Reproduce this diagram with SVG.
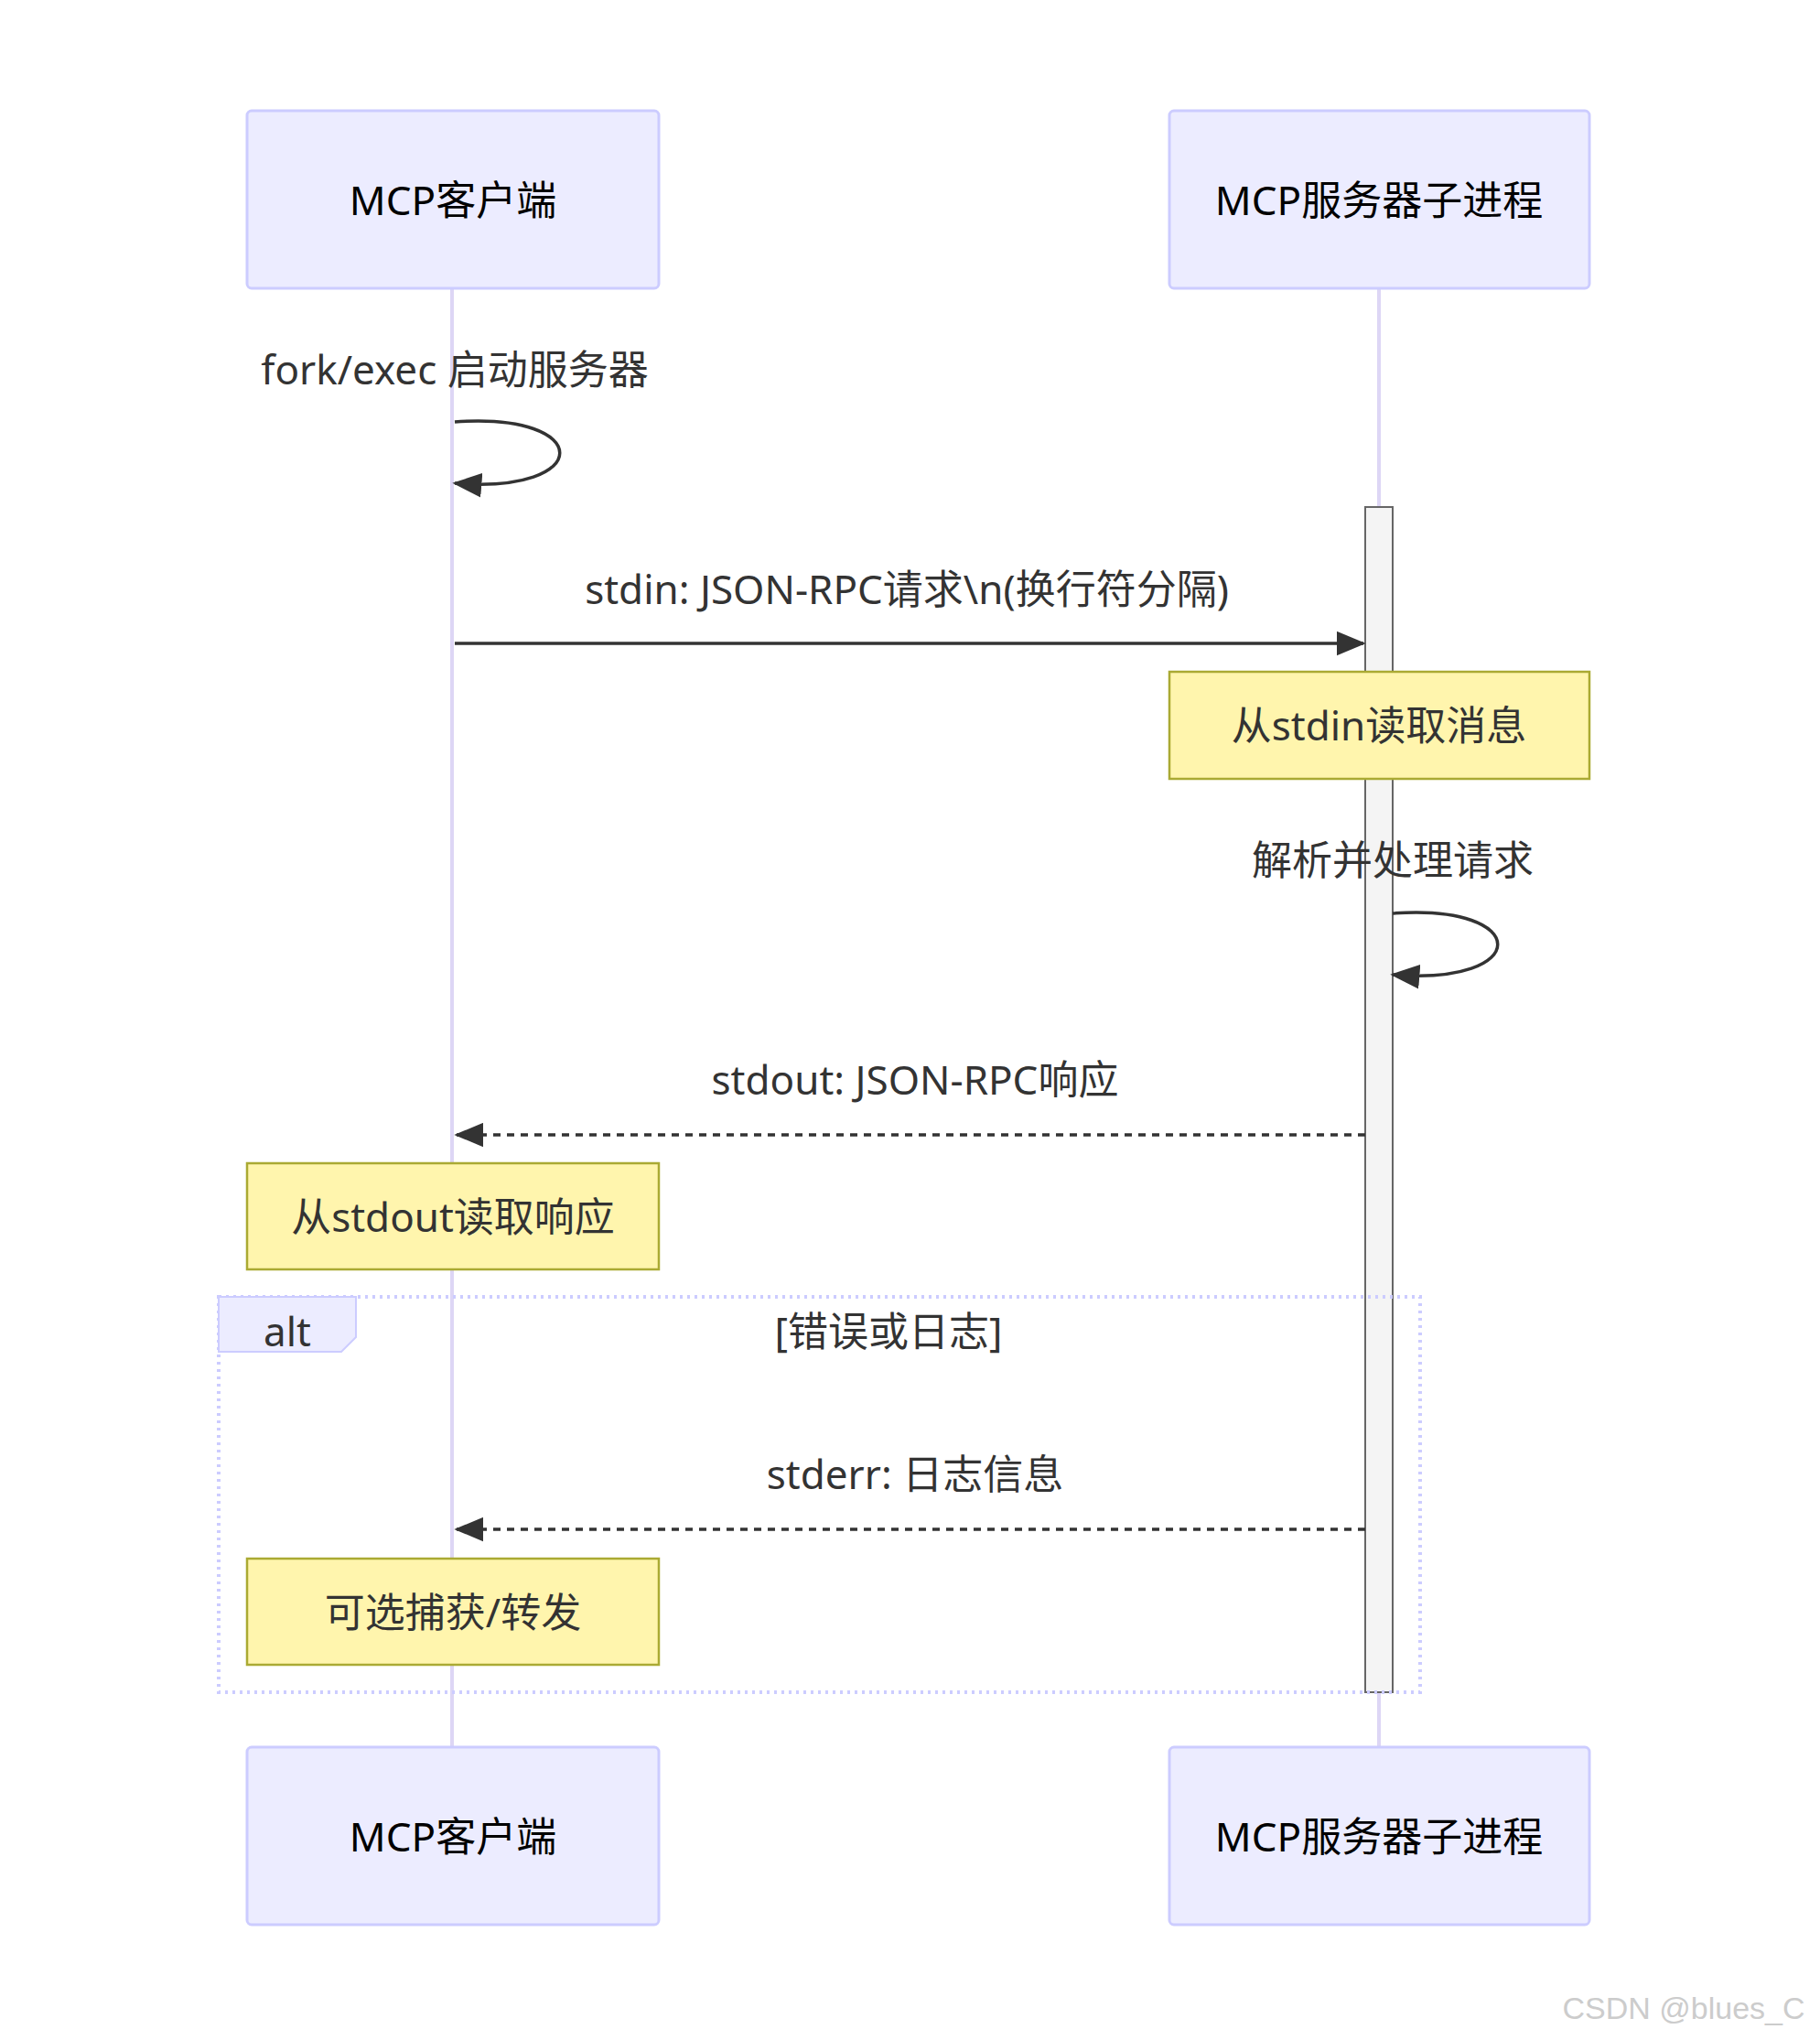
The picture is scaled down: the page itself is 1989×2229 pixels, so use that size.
<svg xmlns="http://www.w3.org/2000/svg" width="1989" height="2229" viewBox="0 0 1989 2229">
<defs>
<style>
text{font-family:"Noto Sans","Noto Sans CJK SC",sans-serif;font-size:44px;fill:#333;text-anchor:middle;dominant-baseline:central}
.actor{fill:#ECECFF;stroke:#CCCCFF;stroke-width:3}
.actor+text{fill:#000}
.note{fill:#FFF5AD;stroke:#AAAA33;stroke-width:2.5}
.life{stroke:#DDD6F5;stroke-width:4}
.msg{stroke:#333;stroke-width:3.5;fill:none}
.dash{stroke-dasharray:8,7}
</style>
<marker id="ah" viewBox="0 0 12 10" refX="11" refY="5" markerWidth="12" markerHeight="10" markerUnits="userSpaceOnUse" orient="auto">
<path d="M0,0 L12,5 L0,10 z" fill="#333"/>
</marker>
<marker id="ahb" viewBox="0 0 12 10" refX="11" refY="5" markerWidth="32" markerHeight="27" markerUnits="userSpaceOnUse" orient="auto">
<path d="M0,0 L12,5 L0,10 z" fill="#333"/>
</marker>
</defs>
<rect width="1989" height="2229" fill="#fff"/>
<g id="lifelines">
<line class="life" x1="494" y1="315" x2="494" y2="1909"/>
<line class="life" x1="1507" y1="315" x2="1507" y2="1909"/>
</g>
<g id="activation"><rect x="1492" y="554" width="30" height="1295" fill="#F4F4F4" stroke="#666" stroke-width="2"/></g>
<g id="alt">
<rect x="239" y="1417" width="1313" height="432" fill="none" stroke="#CCCCFF" stroke-width="4" stroke-dasharray="3,5"/>
<path d="M239,1417 H389 V1461 L373,1477 H239 Z" fill="#ECECFF" stroke="#CCCCFF" stroke-width="2"/>
<text x="314" y="1454">alt</text>
<text x="971" y="1454">[错误或日志]</text>
</g>
<g id="actor-client-top"><rect class="actor" x="270" y="121" width="450" height="194" rx="5"/><text x="495" y="218">MCP客户端</text></g>
<g id="actor-server-top"><rect class="actor" x="1278" y="121" width="459" height="194" rx="5"/><text x="1507" y="218">MCP服务器子进程</text></g>
<g id="actor-client-bottom"><rect class="actor" x="270" y="1909" width="450" height="194" rx="5"/><text x="495" y="2006">MCP客户端</text></g>
<g id="actor-server-bottom"><rect class="actor" x="1278" y="1909" width="459" height="194" rx="5"/><text x="1507" y="2006">MCP服务器子进程</text></g>
<g id="note1"><rect class="note" x="1278" y="734" width="459" height="117"/><text x="1507" y="792">从stdin读取消息</text></g>
<g id="note2"><rect class="note" x="270" y="1271" width="450" height="116"/><text x="495" y="1329">从stdout读取响应</text></g>
<g id="note3"><rect class="note" x="270" y="1703" width="450" height="116"/><text x="495" y="1761">可选捕获/转发</text></g>
<g id="connectors">
<text x="497" y="403">fork/exec 启动服务器</text>
<path class="msg" d="M497,461 C650,450 650,540 497,528" marker-end="url(#ahb)"/>
<text x="991" y="643">stdin: JSON-RPC请求\n(换行符分隔)</text>
<line class="msg" x1="497" y1="703" x2="1490" y2="703" marker-end="url(#ahb)"/>
<text x="1522" y="939">解析并处理请求</text>
<path class="msg" d="M1522,998 C1675,987 1675,1077 1522,1065" marker-end="url(#ahb)"/>
<text x="1000" y="1179">stdout: JSON-RPC响应</text>
<line class="msg dash" x1="1492" y1="1240" x2="499" y2="1240" marker-end="url(#ahb)"/>
<text x="1000" y="1610">stderr: 日志信息</text>
<line class="msg dash" x1="1492" y1="1671" x2="499" y2="1671" marker-end="url(#ahb)"/>
</g>
<text x="1840" y="2194" style="font-family:'Liberation Sans',sans-serif;font-size:34px;fill:#ccc">CSDN @blues_C</text>
</svg>
